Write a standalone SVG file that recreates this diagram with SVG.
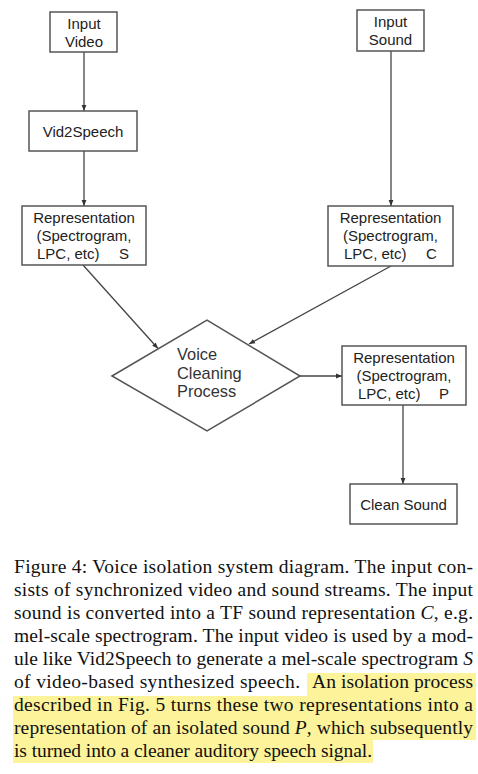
<svg xmlns="http://www.w3.org/2000/svg" width="478" height="774" viewBox="0 0 478 774">
<defs>
<style>
.box{fill:#fff;stroke:#555;stroke-width:1.5}
.lbl{font-family:"Liberation Sans",Arial,sans-serif;font-size:15px;fill:#222}
.ctr{text-anchor:middle}
.dia{font-family:"Liberation Sans",Arial,sans-serif;font-size:16.4px;fill:#333}
.edge{fill:none;stroke:#444;stroke-width:1.3}
.cap{font-family:"Liberation Serif","Times New Roman",serif;font-size:19.5px;fill:#111}
.hl{fill:#fcf39a}
</style>
<marker id="ah" viewBox="0 0 6 6" refX="6" refY="3" markerWidth="6" markerHeight="6" orient="auto" markerUnits="userSpaceOnUse"><path d="M0,0.6 L6,3 L0,5.4 z" fill="#333"/></marker>
</defs>
<rect width="478" height="774" fill="#fff"/>
<g id="connectors">
<line class="edge" x1="84" y1="52" x2="84" y2="111" marker-end="url(#ah)"/>
<line class="edge" x1="84" y1="151" x2="84" y2="206" marker-end="url(#ah)"/>
<line class="edge" x1="391" y1="51" x2="391" y2="206" marker-end="url(#ah)"/>
<line class="edge" x1="83" y1="265" x2="158" y2="348.5" marker-end="url(#ah)"/>
<line class="edge" x1="391" y1="266" x2="249" y2="344" marker-end="url(#ah)"/>
<line class="edge" x1="300" y1="376" x2="342" y2="376" marker-end="url(#ah)"/>
<line class="edge" x1="403" y1="405" x2="403" y2="484" marker-end="url(#ah)"/>
</g>
<g id="input-video">
<rect class="box" x="50" y="12" width="67" height="40"/>
<text class="lbl ctr" x="84" y="29">Input</text>
<text class="lbl ctr" x="84" y="47">Video</text>
</g>
<g id="input-sound">
<rect class="box" x="357" y="10" width="67" height="41"/>
<text class="lbl ctr" x="390.5" y="27">Input</text>
<text class="lbl ctr" x="390.5" y="45">Sound</text>
</g>
<g id="vid2speech">
<rect class="box" x="29" y="111" width="108" height="40"/>
<text class="lbl ctr" x="83" y="137">Vid2Speech</text>
</g>
<g id="rep-s">
<rect class="box" x="22" y="206" width="124" height="59"/>
<text class="lbl ctr" x="84" y="223">Representation</text>
<text class="lbl ctr" x="84" y="241">(Spectrogram,</text>
<text class="lbl" x="37" y="259">LPC, etc)<tspan x="119">S</tspan></text>
</g>
<g id="rep-c">
<rect class="box" x="328" y="206" width="125" height="60"/>
<text class="lbl ctr" x="390.5" y="223">Representation</text>
<text class="lbl ctr" x="390.5" y="241">(Spectrogram,</text>
<text class="lbl" x="344" y="259">LPC, etc)<tspan x="426">C</tspan></text>
</g>
<g id="voice-cleaning">
<polygon points="112,376 207,320 300,376 207,431" fill="#fff" stroke="#555" stroke-width="1.5"/>
<text class="dia" x="177" y="360">Voice</text>
<text class="dia" x="177" y="378.5">Cleaning</text>
<text class="dia" x="177" y="397">Process</text>
</g>
<g id="rep-p">
<rect class="box" x="342" y="346" width="124" height="59"/>
<text class="lbl ctr" x="404" y="363">Representation</text>
<text class="lbl ctr" x="404" y="381">(Spectrogram,</text>
<text class="lbl" x="358" y="399">LPC, etc)<tspan x="439">P</tspan></text>
</g>
<g id="clean-sound">
<rect class="box" x="350" y="484" width="107" height="40"/>
<text class="lbl ctr" x="403.5" y="510">Clean Sound</text>
</g>
<g id="caption">
<path class="hl" d="M307,673 H476 V740 H373 V763 H13 V696 H307 Z"/>
<text class="cap" x="14" y="573" textLength="459" lengthAdjust="spacing">Figure 4: Voice isolation system diagram. The input con-</text>
<text class="cap" x="14" y="596" textLength="459" lengthAdjust="spacing">sists of synchronized video and sound streams. The input</text>
<text class="cap" x="14" y="619" textLength="459" lengthAdjust="spacing">sound is converted into a TF sound representation <tspan font-style="italic">C</tspan>, e.g.</text>
<text class="cap" x="14" y="642" textLength="459" lengthAdjust="spacing">mel-scale spectrogram. The input video is used by a mod-</text>
<text class="cap" x="14" y="665" textLength="459" lengthAdjust="spacing">ule like Vid2Speech to generate a mel-scale spectrogram <tspan font-style="italic">S</tspan></text>
<text class="cap" x="14" y="688" textLength="286" lengthAdjust="spacing">of video-based synthesized speech.</text>
<text class="cap" x="312" y="688" textLength="161" lengthAdjust="spacing">An isolation process</text>
<text class="cap" x="14" y="711" textLength="459" lengthAdjust="spacing">described in Fig. 5 turns these two representations into a</text>
<text class="cap" x="14" y="734" textLength="459" lengthAdjust="spacing">representation of an isolated sound <tspan font-style="italic">P</tspan>, which subsequently</text>
<text class="cap" x="14" y="757" textLength="358" lengthAdjust="spacing">is turned into a cleaner auditory speech signal.</text>
</g>
</svg>
